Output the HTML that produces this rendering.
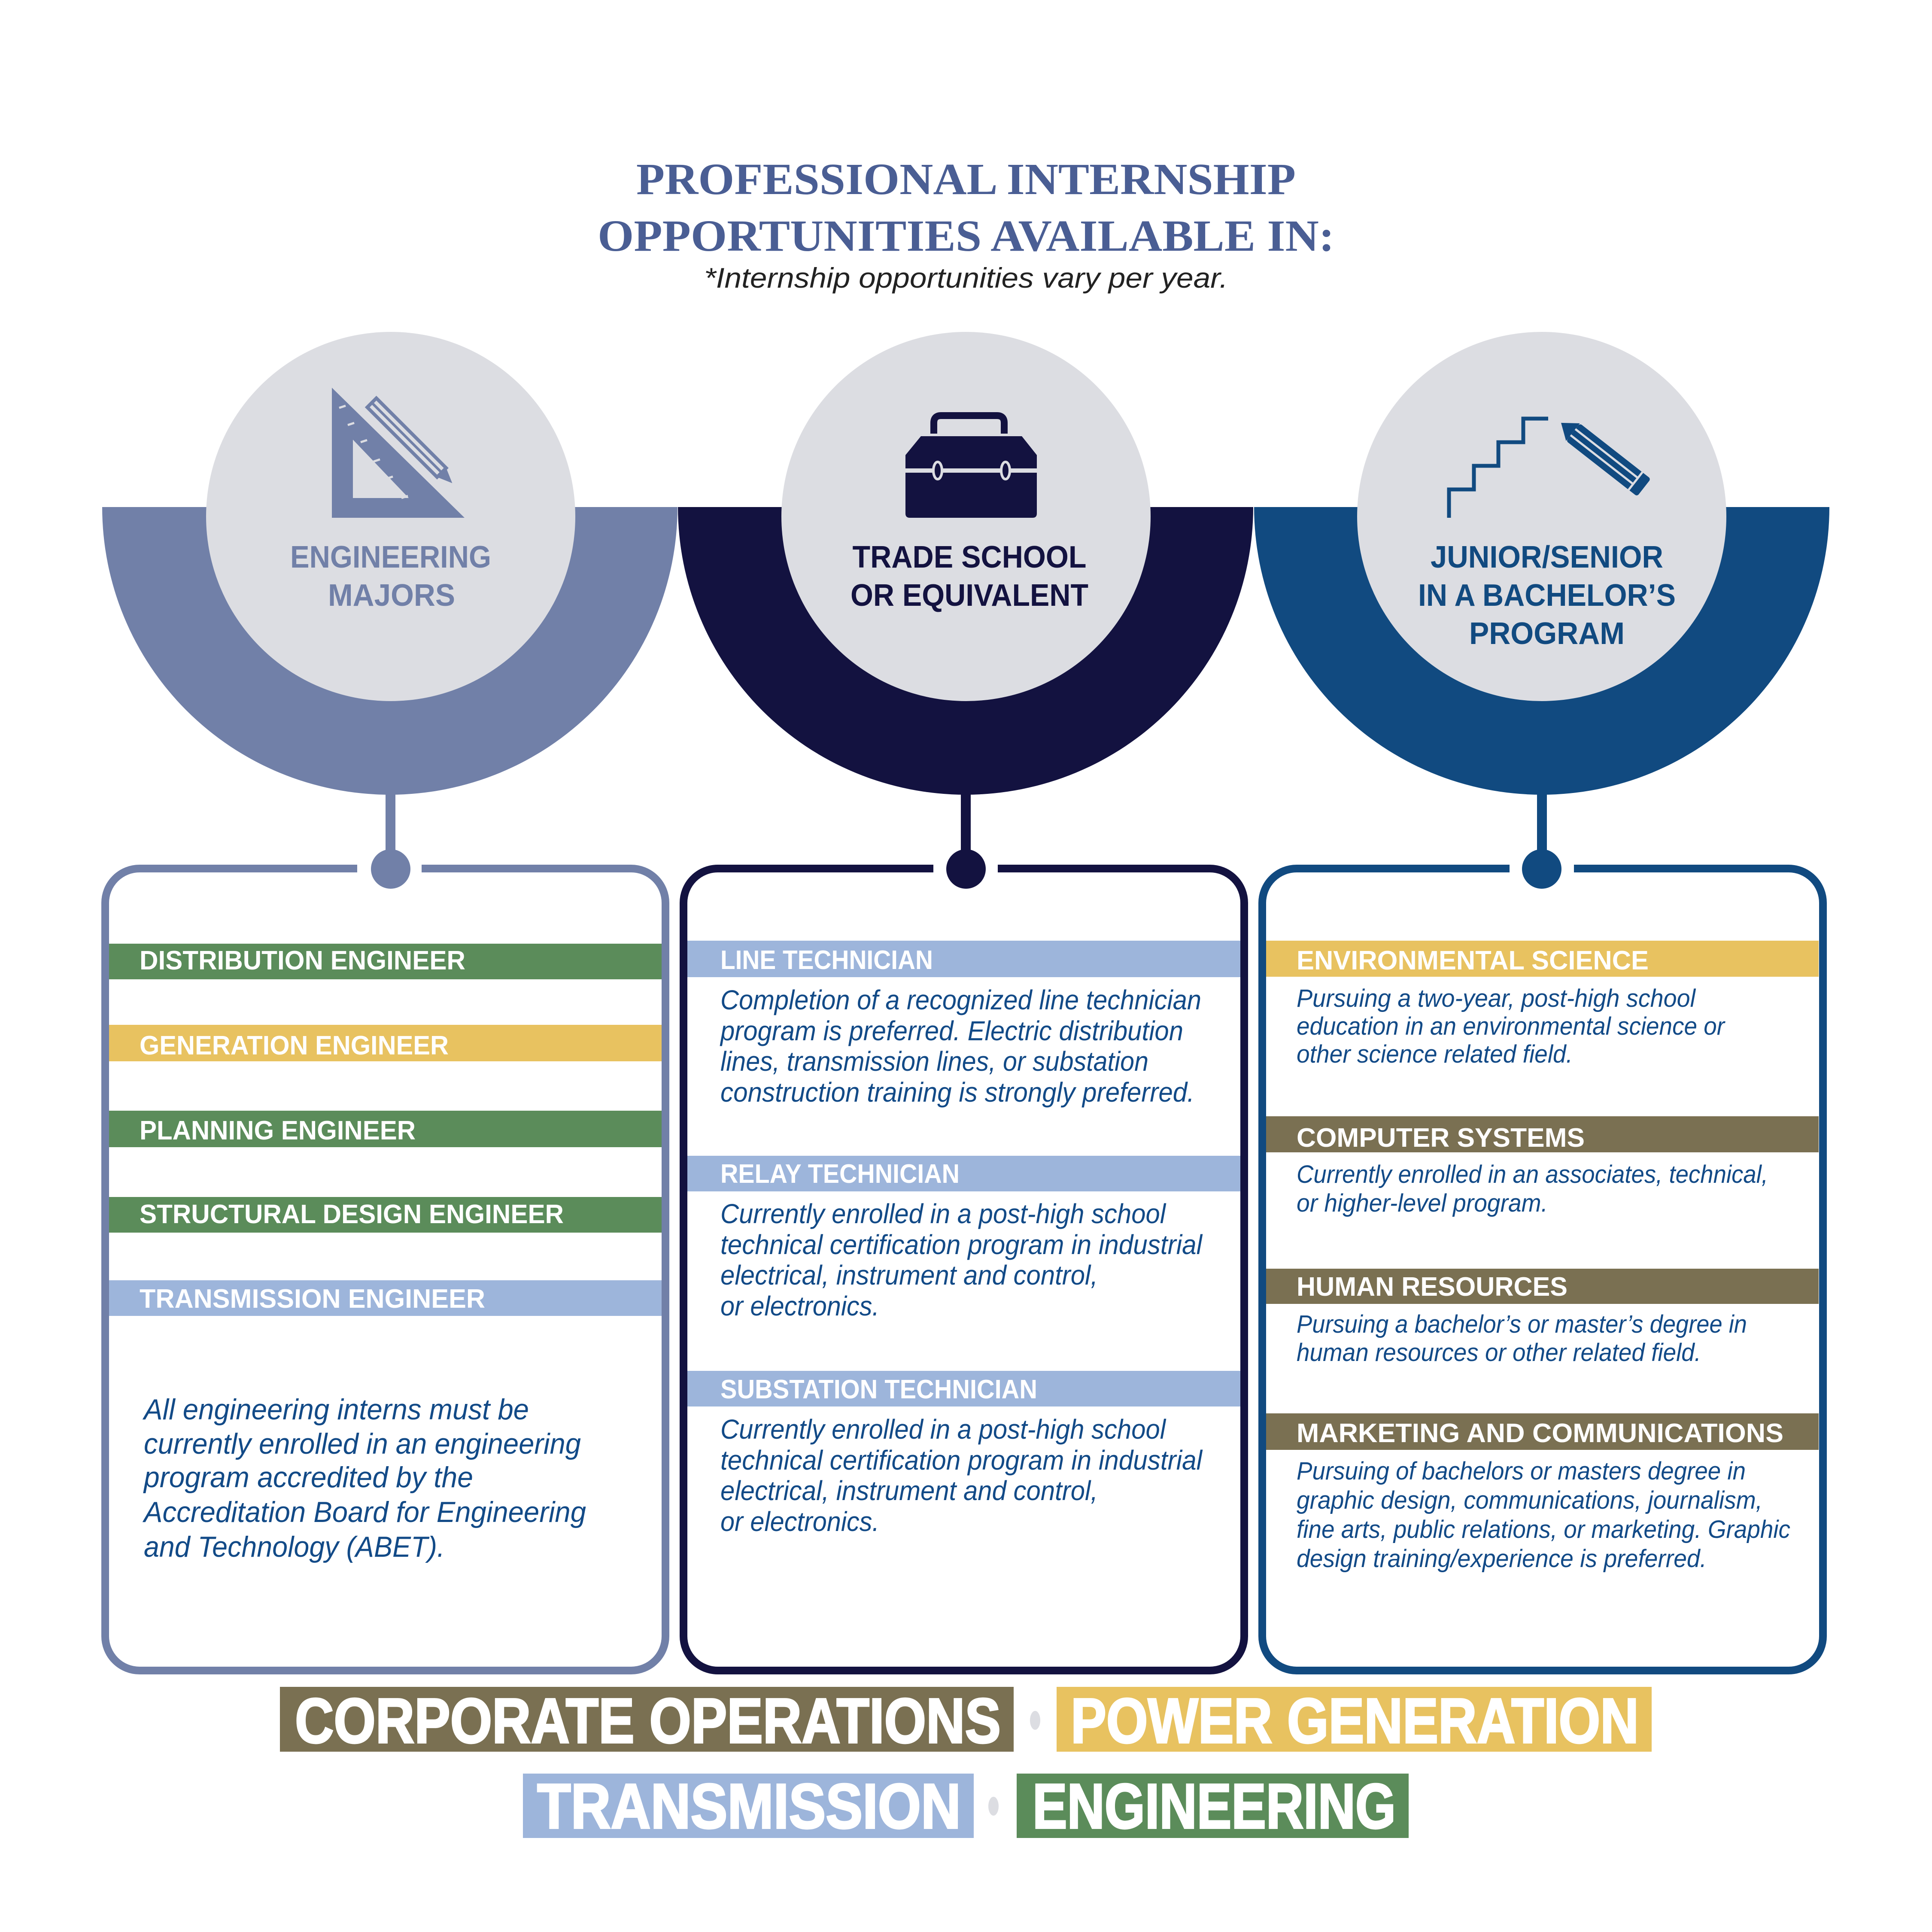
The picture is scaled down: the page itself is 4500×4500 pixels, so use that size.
<!DOCTYPE html>
<html><head><meta charset="utf-8"><style>
html,body{margin:0;padding:0;background:#fff;}
svg{display:block;}
.h{font-family:"Liberation Sans",sans-serif;font-weight:bold;fill:#fff;font-size:62px;}
.b{font-family:"Liberation Sans",sans-serif;font-style:italic;fill:#124a87;}
.lab{font-family:"Liberation Sans",sans-serif;font-weight:bold;font-size:72px;}
.tag{font-family:"Liberation Sans",sans-serif;font-weight:900;font-size:148px;fill:#fff;stroke:#fff;stroke-width:4;}
</style></head><body>
<svg width="4500" height="4500" viewBox="0 0 4500 4500" xmlns="http://www.w3.org/2000/svg">
<rect width="4500" height="4500" fill="#fff"/>
<text x="2250" y="452" text-anchor="middle" textLength="1536" lengthAdjust="spacingAndGlyphs" font-family="Liberation Serif, serif" font-weight="bold" font-size="104" fill="#4a5e94">PROFESSIONAL INTERNSHIP</text>
<text x="2250" y="584" text-anchor="middle" textLength="1716" lengthAdjust="spacingAndGlyphs" font-family="Liberation Serif, serif" font-weight="bold" font-size="104" fill="#4a5e94">OPPORTUNITIES AVAILABLE IN:</text>
<text x="2250" y="670" text-anchor="middle" textLength="1220" lengthAdjust="spacingAndGlyphs" font-family="Liberation Sans, sans-serif" font-style="italic" font-size="66" fill="#222">*Internship opportunities vary per year.</text>

<path d="M238 1181 A670 670 0 0 0 1578 1181 Z" fill="#7180a8"/>
<path d="M1579 1181 A670 670 0 0 0 2919 1181 Z" fill="#131240"/>
<path d="M2921 1181 A670 670 0 0 0 4261 1181 Z" fill="#114a80"/>
<circle cx="910" cy="1203" r="430" fill="#dcdde2"/>
<circle cx="2250" cy="1203" r="430" fill="#dcdde2"/>
<circle cx="3591" cy="1203" r="430" fill="#dcdde2"/>

<path d="M773 903 L773 1206 L1082 1206 Z M822 1024 L822 1160 L952 1160 Z" fill="#7180a8" fill-rule="evenodd"/>
<g stroke="#dcdde2" stroke-width="5">
<line x1="790" y1="950" x2="805" y2="945"/><line x1="810" y1="990" x2="825" y2="985"/><line x1="840" y1="1030" x2="855" y2="1025"/><line x1="870" y1="1075" x2="885" y2="1070"/><line x1="900" y1="1115" x2="915" y2="1110"/><line x1="935" y1="1160" x2="950" y2="1155"/>
</g>
<g transform="translate(866 938) rotate(45)">
<rect x="0" y="-15" width="230" height="30" fill="none" stroke="#7180a8" stroke-width="8"/>
<line x1="0" y1="0" x2="230" y2="0" stroke="#7180a8" stroke-width="6"/>
<path d="M230 -15 L265 0 L230 15 Z" fill="#7180a8"/>
</g>

<path d="M2175 1010 L2175 985 Q2175 968 2192 968 L2322 968 Q2339 968 2339 985 L2339 1010" fill="none" stroke="#131240" stroke-width="16"/>
<path d="M2145 1016 L2380 1016 L2415 1060 L2415 1196 Q2415 1206 2405 1206 L2119 1206 Q2109 1206 2109 1196 L2109 1060 Z" fill="#131240"/>
<line x1="2109" y1="1096" x2="2415" y2="1096" stroke="#dcdde2" stroke-width="10"/>
<ellipse cx="2184" cy="1096" rx="10" ry="20" fill="#131240" stroke="#dcdde2" stroke-width="6"/>
<ellipse cx="2342" cy="1096" rx="10" ry="20" fill="#131240" stroke="#dcdde2" stroke-width="6"/>

<polyline points="3375,1206 3375,1140 3433,1140 3433,1085 3490,1085 3490,1030 3548,1030 3548,975 3606,975" fill="none" stroke="#114a80" stroke-width="9"/>
<g transform="translate(3640 988) rotate(38)">
<rect x="30" y="-26" width="210" height="52" rx="6" fill="#114a80"/>
<line x1="30" y1="-9" x2="215" y2="-9" stroke="#dcdde2" stroke-width="5"/>
<line x1="30" y1="9" x2="215" y2="9" stroke="#dcdde2" stroke-width="5"/>
<line x1="215" y1="-26" x2="215" y2="26" stroke="#dcdde2" stroke-width="5"/>
<path d="M30 -26 L-5 0 L30 26 Z" fill="#114a80"/>
</g>

<g class="lab" text-anchor="middle">
<text x="910" y="1322" fill="#7180a8" textLength="468" lengthAdjust="spacingAndGlyphs">ENGINEERING</text>
<text x="912" y="1411" fill="#7180a8" textLength="296" lengthAdjust="spacingAndGlyphs">MAJORS</text>
<text x="2258" y="1322" fill="#131240" textLength="545" lengthAdjust="spacingAndGlyphs">TRADE SCHOOL</text>
<text x="2258" y="1411" fill="#131240" textLength="554" lengthAdjust="spacingAndGlyphs">OR EQUIVALENT</text>
<text x="3603" y="1322" fill="#114a80" textLength="542" lengthAdjust="spacingAndGlyphs">JUNIOR/SENIOR</text>
<text x="3603" y="1411" fill="#114a80" textLength="600" lengthAdjust="spacingAndGlyphs">IN A BACHELOR’S</text>
<text x="3603" y="1500" fill="#114a80" textLength="362" lengthAdjust="spacingAndGlyphs">PROGRAM</text>
</g>

<rect x="245" y="2023" width="1305" height="1868" rx="80" fill="#fff" stroke="#7180a8" stroke-width="18"/>
<rect x="1592" y="2023" width="1306" height="1868" rx="80" fill="#fff" stroke="#131240" stroke-width="18"/>
<rect x="2940" y="2023" width="1306" height="1868" rx="80" fill="#fff" stroke="#114a80" stroke-width="18"/>
<rect x="832" y="2005" width="150" height="30" fill="#fff"/>
<rect x="2174" y="2005" width="150" height="30" fill="#fff"/>
<rect x="3516" y="2005" width="150" height="30" fill="#fff"/>
<rect x="898" y="1845" width="23" height="180" fill="#7180a8"/>
<circle cx="910" cy="2024" r="46" fill="#7180a8"/>
<rect x="2238" y="1845" width="23" height="180" fill="#131240"/>
<circle cx="2250" cy="2024" r="46" fill="#131240"/>
<rect x="3580" y="1845" width="23" height="180" fill="#114a80"/>
<circle cx="3591" cy="2024" r="46" fill="#114a80"/>

<rect x="254" y="2198" width="1287" height="83" fill="#5b8c5a"/>
<rect x="254" y="2387" width="1287" height="85" fill="#e8c260"/>
<rect x="254" y="2587" width="1287" height="85" fill="#5b8c5a"/>
<rect x="254" y="2788" width="1287" height="83" fill="#5b8c5a"/>
<rect x="254" y="2982" width="1287" height="83" fill="#9db5db"/>
<g class="h">
<text x="325" y="2258" textLength="759" lengthAdjust="spacingAndGlyphs">DISTRIBUTION ENGINEER</text>
<text x="325" y="2456" textLength="720" lengthAdjust="spacingAndGlyphs">GENERATION ENGINEER</text>
<text x="325" y="2654" textLength="643" lengthAdjust="spacingAndGlyphs">PLANNING ENGINEER</text>
<text x="325" y="2849" textLength="988" lengthAdjust="spacingAndGlyphs">STRUCTURAL DESIGN ENGINEER</text>
<text x="325" y="3046" textLength="805" lengthAdjust="spacingAndGlyphs">TRANSMISSION ENGINEER</text>
</g>
<g class="b" font-size="68">
<text x="335" y="3306" textLength="897" lengthAdjust="spacingAndGlyphs">All engineering interns must be</text>
<text x="335" y="3386" textLength="1018" lengthAdjust="spacingAndGlyphs">currently enrolled in an engineering</text>
<text x="335" y="3464" textLength="767" lengthAdjust="spacingAndGlyphs">program accredited by the</text>
<text x="335" y="3545" textLength="1030" lengthAdjust="spacingAndGlyphs">Accreditation Board for Engineering</text>
<text x="335" y="3626" textLength="701" lengthAdjust="spacingAndGlyphs">and Technology (ABET).</text>
</g>

<rect x="1601" y="2191" width="1288" height="85" fill="#9db5db"/>
<rect x="1601" y="2692" width="1288" height="83" fill="#9db5db"/>
<rect x="1601" y="3193" width="1288" height="83" fill="#9db5db"/>
<g class="h">
<text x="1678" y="2257" textLength="495" lengthAdjust="spacingAndGlyphs">LINE TECHNICIAN</text>
<text x="1678" y="2755" textLength="557" lengthAdjust="spacingAndGlyphs">RELAY TECHNICIAN</text>
<text x="1678" y="3257" textLength="738" lengthAdjust="spacingAndGlyphs">SUBSTATION TECHNICIAN</text>
</g>
<g class="b" font-size="64">
<text x="1678" y="2351" textLength="1120" lengthAdjust="spacingAndGlyphs">Completion of a recognized line technician</text>
<text x="1678" y="2423" textLength="1078" lengthAdjust="spacingAndGlyphs">program is preferred. Electric distribution</text>
<text x="1678" y="2494" textLength="997" lengthAdjust="spacingAndGlyphs">lines, transmission lines, or substation</text>
<text x="1678" y="2566" textLength="1104" lengthAdjust="spacingAndGlyphs">construction training is strongly preferred.</text>
<text x="1678" y="2849" textLength="1037" lengthAdjust="spacingAndGlyphs">Currently enrolled in a post-high school</text>
<text x="1678" y="2921" textLength="1122" lengthAdjust="spacingAndGlyphs">technical certification program in industrial</text>
<text x="1678" y="2992" textLength="879" lengthAdjust="spacingAndGlyphs">electrical, instrument and control,</text>
<text x="1678" y="3064" textLength="370" lengthAdjust="spacingAndGlyphs">or electronics.</text>
<text x="1678" y="3351" textLength="1037" lengthAdjust="spacingAndGlyphs">Currently enrolled in a post-high school</text>
<text x="1678" y="3423" textLength="1122" lengthAdjust="spacingAndGlyphs">technical certification program in industrial</text>
<text x="1678" y="3494" textLength="879" lengthAdjust="spacingAndGlyphs">electrical, instrument and control,</text>
<text x="1678" y="3566" textLength="370" lengthAdjust="spacingAndGlyphs">or electronics.</text>
</g>

<rect x="2949" y="2191" width="1287" height="84" fill="#e8c260"/>
<rect x="2949" y="2600" width="1287" height="84" fill="#7a7052"/>
<rect x="2949" y="2955" width="1287" height="82" fill="#7a7052"/>
<rect x="2949" y="3292" width="1287" height="85" fill="#7a7052"/>
<g class="h">
<text x="3020" y="2258" textLength="820" lengthAdjust="spacingAndGlyphs">ENVIRONMENTAL SCIENCE</text>
<text x="3020" y="2671" textLength="671" lengthAdjust="spacingAndGlyphs">COMPUTER SYSTEMS</text>
<text x="3020" y="3018" textLength="631" lengthAdjust="spacingAndGlyphs">HUMAN RESOURCES</text>
<text x="3020" y="3359" textLength="1134" lengthAdjust="spacingAndGlyphs">MARKETING AND COMMUNICATIONS</text>
</g>
<g class="b" font-size="58">
<text x="3020" y="2345" textLength="929" lengthAdjust="spacingAndGlyphs">Pursuing a two-year, post-high school</text>
<text x="3020" y="2410" textLength="997" lengthAdjust="spacingAndGlyphs">education in an environmental science or</text>
<text x="3020" y="2475" textLength="643" lengthAdjust="spacingAndGlyphs">other science related field.</text>
<text x="3020" y="2755" textLength="1098" lengthAdjust="spacingAndGlyphs">Currently enrolled in an associates, technical,</text>
<text x="3020" y="2822" textLength="585" lengthAdjust="spacingAndGlyphs">or higher-level program.</text>
<text x="3020" y="3104" textLength="1049" lengthAdjust="spacingAndGlyphs">Pursuing a bachelor’s or master’s degree in</text>
<text x="3020" y="3170" textLength="942" lengthAdjust="spacingAndGlyphs">human resources or other related field.</text>
<text x="3020" y="3446" textLength="1046" lengthAdjust="spacingAndGlyphs">Pursuing of bachelors or masters degree in</text>
<text x="3020" y="3514" textLength="1085" lengthAdjust="spacingAndGlyphs">graphic design, communications, journalism,</text>
<text x="3020" y="3582" textLength="1150" lengthAdjust="spacingAndGlyphs">fine arts, public relations, or marketing. Graphic</text>
<text x="3020" y="3650" textLength="955" lengthAdjust="spacingAndGlyphs">design training/experience is preferred.</text>
</g>

<rect x="652" y="3929" width="1709" height="151" fill="#7a7052"/>
<rect x="2461" y="3929" width="1386" height="151" fill="#e8c260"/>
<ellipse cx="2411" cy="4007" rx="12" ry="22" fill="#dcdde2"/>
<rect x="1218" y="4131" width="1050" height="150" fill="#9db5db"/>
<rect x="2368" y="4131" width="913" height="150" fill="#5b8c5a"/>
<ellipse cx="2314" cy="4207" rx="12" ry="22" fill="#dcdde2"/>
<g class="tag">
<text x="687" y="4059" textLength="1644" lengthAdjust="spacingAndGlyphs">CORPORATE OPERATIONS</text>
<text x="2494" y="4059" textLength="1323" lengthAdjust="spacingAndGlyphs">POWER GENERATION</text>
<text x="1251" y="4258" textLength="987" lengthAdjust="spacingAndGlyphs">TRANSMISSION</text>
<text x="2405" y="4258" textLength="846" lengthAdjust="spacingAndGlyphs">ENGINEERING</text>
</g>
</svg>
</body></html>
